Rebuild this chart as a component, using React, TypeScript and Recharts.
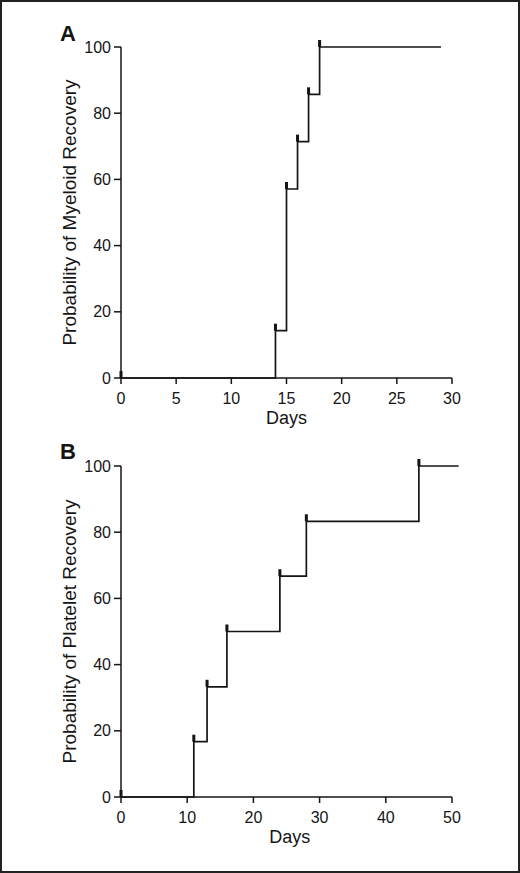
import React from 'react';
import { ComposedChart, Line, Scatter, XAxis, YAxis, Label, ReferenceLine } from 'recharts';

// Panel A: myeloid recovery (Kaplan-Meier style step curve)
const myeloidDays = [0, 14, 15, 16, 17, 18, 29];
const myeloidProb = [0, 14.3, 57.1, 71.4, 85.7, 100, 100];
const myeloidMarkDays = [0, 14, 15, 16, 17, 18];
const myeloidMarkProb = [0, 14.3, 57.1, 71.4, 85.7, 100];

// Panel B: platelet recovery
const plateletDays = [0, 11, 13, 16, 24, 28, 45, 51];
const plateletProb = [0, 16.7, 33.3, 50, 66.7, 83.3, 100, 100];
const plateletMarkDays = [0, 11, 13, 16, 24, 28, 45];
const plateletMarkProb = [0, 16.7, 33.3, 50, 66.7, 83.3, 100];

const xTicksA = [0, 5, 10, 15, 20, 25, 30];
const xTicksB = [0, 10, 20, 30, 40, 50];
const yTicks = [0, 20, 40, 60, 80, 100];

const INK = '#151515';
const FONT = '"Liberation Sans", Arial, Helvetica, sans-serif';

const toRows = (xs: number[], ys: number[]) => xs.map((d, i) => ({ day: d, prob: ys[i] }));

const CensorMark = (props: any) => {
  const { cx, cy } = props;
  if (cx == null || cy == null) return null;
  return <rect x={cx - 1.5} y={cy - 7} width={3} height={7} fill={INK} />;
};

type PanelProps = {
  curve: { day: number; prob: number }[];
  marks: { day: number; prob: number }[];
  xDomain: [number, number];
  xTicks: number[];
  axisEnd: number;
  rightMargin: number;
  yLabel: string;
};

const Panel = ({ curve, marks, xDomain, xTicks, axisEnd, rightMargin, yLabel }: PanelProps) => (
  <ComposedChart
    width={520}
    height={440}
    margin={{ top: 47, right: rightMargin, left: 0, bottom: 32 }}
    style={{ fontFamily: FONT }}
  >
    <XAxis
      type="number"
      dataKey="day"
      domain={xDomain}
      ticks={xTicks}
      interval={0}
      allowDataOverflow={false}
      height={30}
      axisLine={false}
      tickLine={{ stroke: INK, strokeWidth: 1.5 }}
      tickSize={6}
      tickMargin={9}
      tick={{ fontSize: 16, fill: INK, fontFamily: FONT }}
    >
      <Label value="Days" position="bottom" offset={3} style={{ fontSize: 18, fill: INK, fontFamily: FONT }} />
    </XAxis>
    <YAxis
      type="number"
      domain={[0, 100]}
      ticks={yTicks}
      interval={0}
      width={121}
      axisLine={{ stroke: INK, strokeWidth: 1.5 }}
      tickLine={{ stroke: INK, strokeWidth: 1.5 }}
      tickSize={7}
      tickMargin={3}
      tick={{ fontSize: 16, fill: INK, fontFamily: FONT }}
    >
      <Label
        value={yLabel}
        angle={-90}
        position="insideLeft"
        offset={69}
        style={{ fontSize: 19, fill: INK, fontFamily: FONT, textAnchor: 'middle' }}
      />
    </YAxis>
    <ReferenceLine
      segment={[{ x: 0, y: 0 }, { x: axisEnd, y: 0 }]}
      stroke={INK}
      strokeWidth={1.5}
      ifOverflow="visible"
    />
    <Line
      data={curve}
      dataKey="prob"
      type="stepAfter"
      stroke={INK}
      strokeWidth={1.7}
      dot={false}
      activeDot={false}
      isAnimationActive={false}
    />
    <Scatter data={marks} dataKey="prob" shape={CensorMark} isAnimationActive={false} />
  </ComposedChart>
);

const letterStyle: React.CSSProperties = {
  position: 'absolute',
  left: 60,
  fontFamily: FONT,
  fontWeight: 'bold',
  fontSize: 22,
  lineHeight: 1,
  color: INK,
};

export default function App() {
  return (
    <div style={{ position: 'absolute', left: 0, top: 0, width: 520, height: 873, background: '#fff', overflow: 'hidden' }}>
      <div style={{ position: 'absolute', left: 0, top: 0 }}>
        <Panel
          curve={toRows(myeloidDays, myeloidProb)}
          marks={toRows(myeloidMarkDays, myeloidMarkProb)}
          xDomain={[0, 30]}
          xTicks={xTicksA}
          axisEnd={30}
          rightMargin={68}
          yLabel="Probability of Myeloid Recovery"
        />
      </div>
      <div style={{ position: 'absolute', left: 0, top: 419 }}>
        <Panel
          curve={toRows(plateletDays, plateletProb)}
          marks={toRows(plateletMarkDays, plateletMarkProb)}
          xDomain={[0, 51]}
          xTicks={xTicksB}
          axisEnd={50}
          rightMargin={61.4}
          yLabel="Probability of Platelet Recovery"
        />
      </div>
      <div style={{ ...letterStyle, top: 23 }}>A</div>
      <div style={{ ...letterStyle, top: 441 }}>B</div>
      <div
        style={{
          position: 'absolute',
          left: 0,
          top: 0,
          width: 520,
          height: 873,
          boxSizing: 'border-box',
          border: '2px solid #222',
          pointerEvents: 'none',
        }}
      />
    </div>
  );
}
